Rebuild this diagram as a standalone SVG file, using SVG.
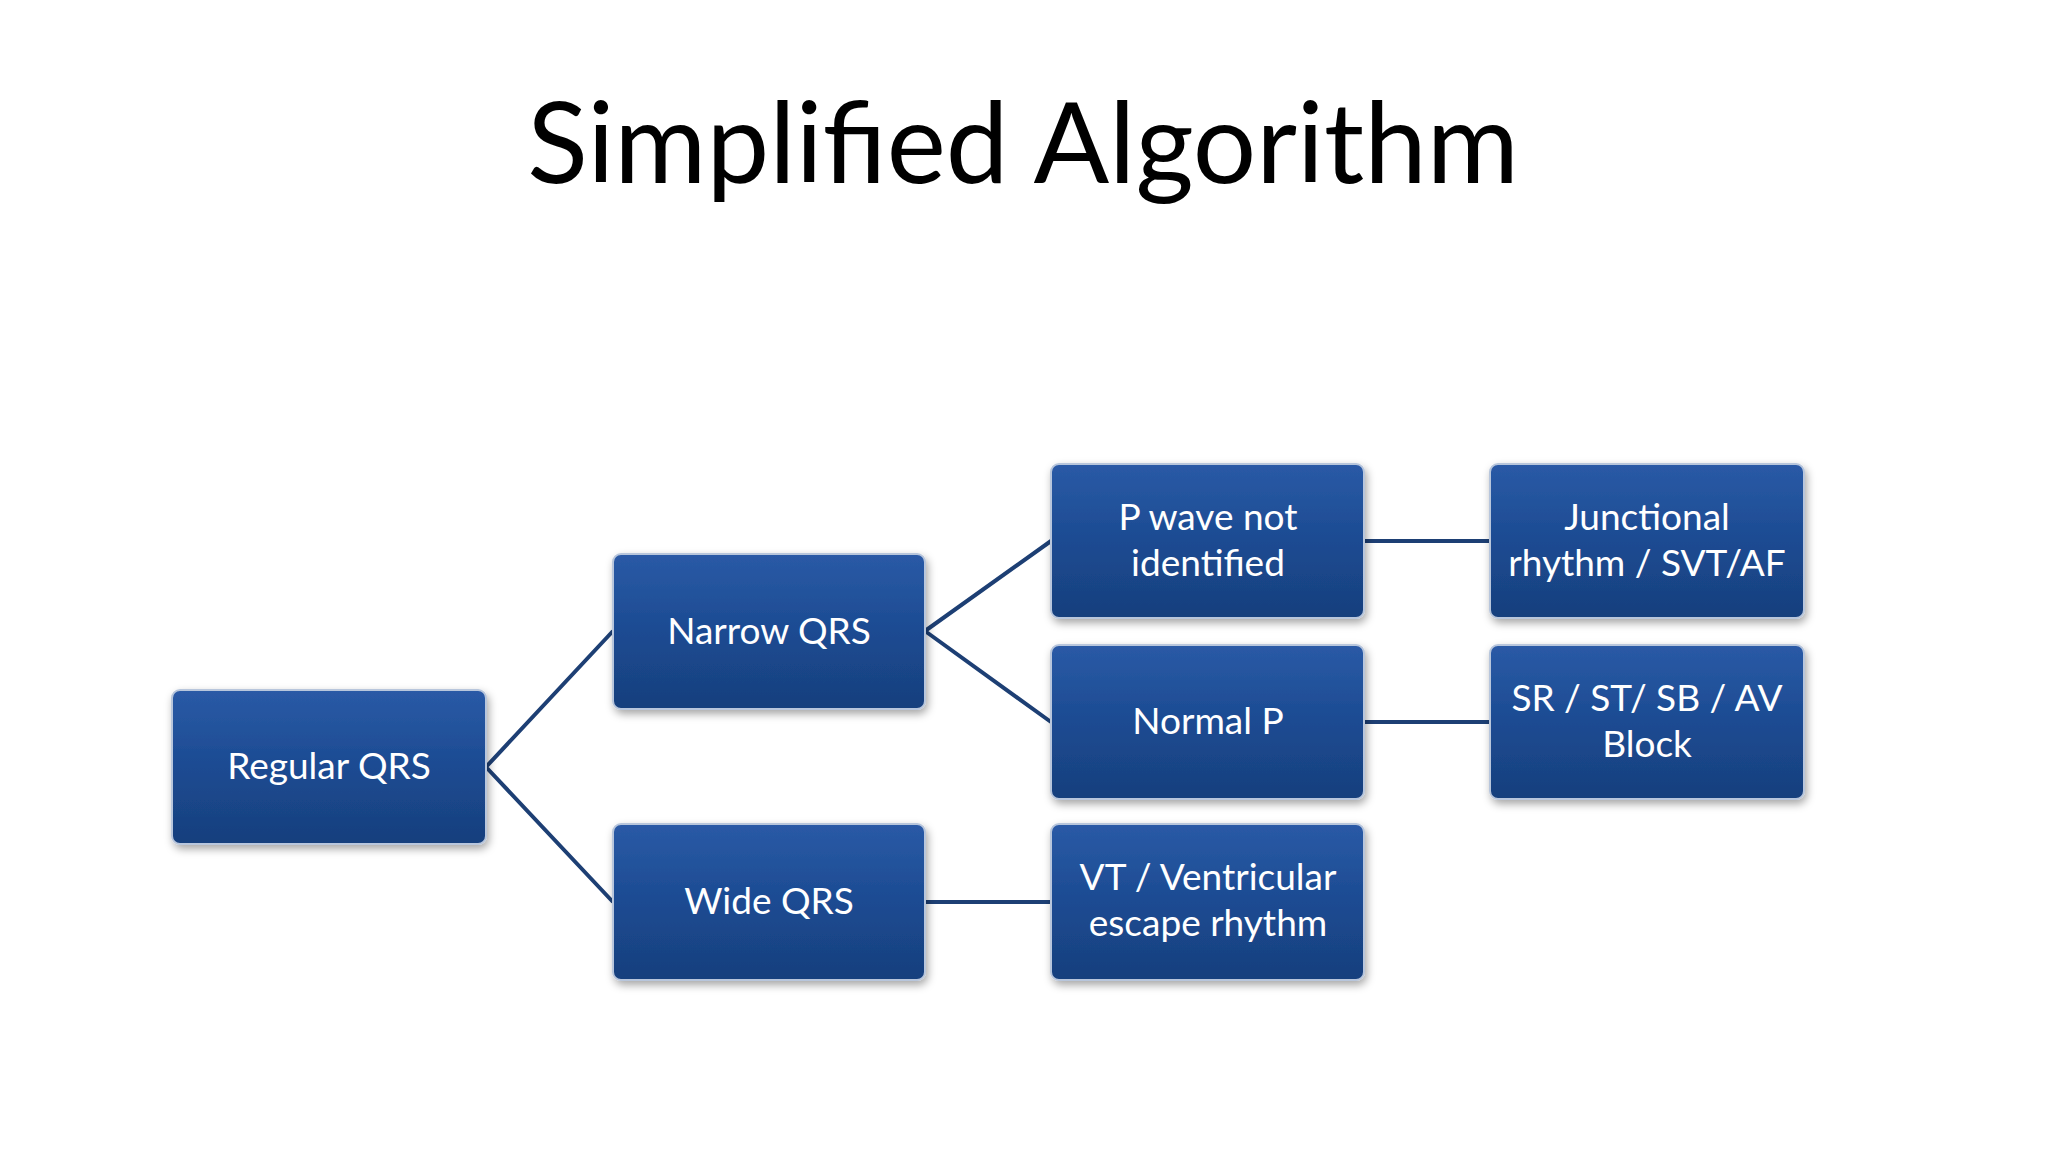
<svg xmlns="http://www.w3.org/2000/svg" width="2048" height="1152" viewBox="0 0 2048 1152">
<defs>
<linearGradient id="g" x1="0" y1="0" x2="0" y2="1">
<stop offset="0" stop-color="#2a5aa6"/><stop offset="0.5" stop-color="#1c4b92"/><stop offset="1" stop-color="#173f7d"/>
</linearGradient>
<filter id="sh" x="-10%" y="-10%" width="125%" height="130%"><feDropShadow dx="2" dy="4" stdDeviation="4" flood-color="#000" flood-opacity="0.35"/></filter>
</defs>
<style>
.b{fill:url(#g);stroke:#b8c6dc;stroke-width:2;filter:url(#sh)}
.t{font-family:Lato,"Open Sans",sans-serif;font-size:37px;fill:#fff;text-anchor:middle}
.c{stroke:#1d3f74;stroke-width:4;fill:none}
</style>
<rect width="2048" height="1152" fill="#fff"/>
<text x="1023" y="183" font-family="Lato,'Open Sans',sans-serif" font-size="112" text-anchor="middle" fill="#000">Simplified Algorithm</text>
<g id="connectors">
<path class="c" d="M486 767 L613 631 M486 767 L613 902 M925 631 L1051 541 M925 631 L1051 722 M1364 541 L1490 541 M1364 722 L1490 722 M925 902 L1051 902"/>
</g>
<g id="regular"><rect class="b" x="172" y="690" width="314" height="154" rx="8"/><text class="t" x="329" y="779">Regular QRS</text></g>
<g id="narrow"><rect class="b" x="613" y="554" width="312" height="155" rx="8"/><text class="t" x="769" y="644">Narrow QRS</text></g>
<g id="wide"><rect class="b" x="613" y="824" width="312" height="156" rx="8"/><text class="t" x="769" y="914">Wide QRS</text></g>
<g id="pwave"><rect class="b" x="1051" y="464" width="313" height="154" rx="8"/><text class="t" x="1208" y="530">P wave not</text><text class="t" x="1208" y="576">identified</text></g>
<g id="normalp"><rect class="b" x="1051" y="645" width="313" height="154" rx="8"/><text class="t" x="1208" y="734">Normal P</text></g>
<g id="vt"><rect class="b" x="1051" y="824" width="313" height="156" rx="8"/><text class="t" x="1208" y="890">VT / Ventricular</text><text class="t" x="1208" y="936">escape rhythm</text></g>
<g id="junctional"><rect class="b" x="1490" y="464" width="314" height="154" rx="8"/><text class="t" x="1647" y="530">Junctional</text><text class="t" x="1647" y="576">rhythm / SVT/AF</text></g>
<g id="sr"><rect class="b" x="1490" y="645" width="314" height="154" rx="8"/><text class="t" x="1647" y="711">SR / ST/ SB / AV</text><text class="t" x="1647" y="757">Block</text></g>
</svg>
